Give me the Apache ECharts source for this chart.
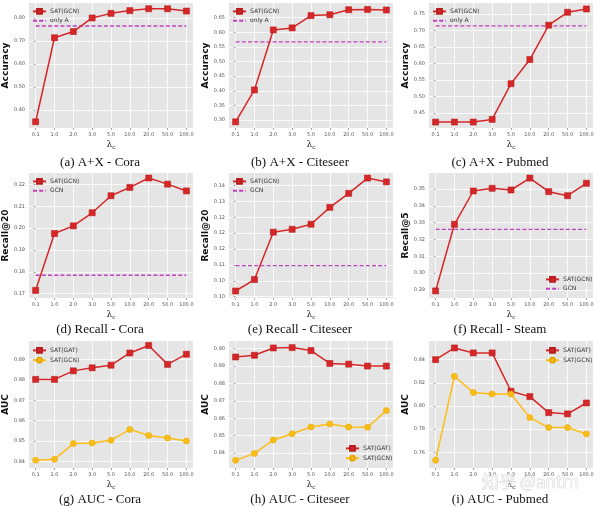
<!DOCTYPE html>
<html>
<head>
<meta charset="utf-8">
<script src="https://cdn.jsdelivr.net/npm/echarts@6/dist/echarts.min.js"></script>
<style>
  html, body { margin: 0; padding: 0; background: #fff; }
  #main { width: 600px; height: 507px; }
</style>
</head>
<body>
<div id="main"></div>
<script>
// lambda_c categories
const lambdas = ['0.1', '1.0', '2.0', '3.0', '5.0', '10.0', '20.0', '50.0', '100.0'];

// row 1: accuracy, A+X
const accCora = [0.349, 0.714, 0.741, 0.800, 0.820, 0.832, 0.840, 0.840, 0.830];
const onlyACora = 0.765;
const accCiteseer = [0.294, 0.403, 0.608, 0.615, 0.657, 0.660, 0.677, 0.678, 0.676];
const onlyACiteseer = 0.567;
const accPubmed = [0.423, 0.423, 0.423, 0.431, 0.539, 0.612, 0.716, 0.755, 0.765];
const onlyAPubmed = 0.714;

// row 2: recall
const recallCora = [0.1715, 0.1975, 0.2010, 0.2070, 0.2148, 0.2186, 0.2229, 0.2201, 0.2170];
const gcnCora = 0.1784;
const recallCiteseer = [0.1018, 0.1054, 0.1203, 0.1212, 0.1228, 0.1281, 0.1325, 0.1373, 0.1361];
const gcnCiteseer = 0.1098;
const recallSteam = [0.2894, 0.3290, 0.3488, 0.3504, 0.3494, 0.3565, 0.3484, 0.3460, 0.3534];
const gcnSteam = 0.326;

// row 3: AUC
const aucCoraGAT = [0.8803, 0.8803, 0.8845, 0.8860, 0.8873, 0.8933, 0.8970, 0.8877, 0.8927];
const aucCoraGCN = [0.8405, 0.8410, 0.8487, 0.8490, 0.8503, 0.8557, 0.8527, 0.8515, 0.8500];
const aucCiteseerGAT = [0.8952, 0.8962, 0.9004, 0.9006, 0.8989, 0.8915, 0.8911, 0.8900, 0.8900];
const aucCiteseerGCN = [0.8358, 0.8398, 0.8475, 0.8511, 0.8550, 0.8567, 0.8550, 0.8548, 0.8644];
const aucPubmedGAT = [0.8400, 0.8501, 0.8458, 0.8458, 0.8127, 0.8081, 0.7943, 0.7932, 0.8026];
const aucPubmedGCN = [0.7531, 0.8257, 0.8116, 0.8104, 0.8104, 0.7900, 0.7814, 0.7814, 0.7759];

// y tick values / labels
const ticksA = [0.40, 0.50, 0.60, 0.70, 0.80];
const ticksB = [0.30, 0.35, 0.40, 0.45, 0.50, 0.55, 0.60, 0.65];
const ticksC = [0.45, 0.50, 0.55, 0.60, 0.65, 0.70, 0.75];
const ticksD = [0.17, 0.18, 0.19, 0.20, 0.21, 0.22];
const ticksE = [0.100, 0.105, 0.110, 0.115, 0.120, 0.125, 0.130, 0.135];
const labelsE = ['0.10', '0.10', '0.11', '0.12', '0.12', '0.12', '0.13', '0.14'];
const ticksF = [0.29, 0.30, 0.31, 0.32, 0.33, 0.34, 0.35];
const ticksG = [0.84, 0.85, 0.86, 0.87, 0.88, 0.89];
const ticksH = [0.84, 0.85, 0.86, 0.87, 0.88, 0.89, 0.90];
const ticksI = [0.76, 0.78, 0.80, 0.82, 0.84];

const RED = '#d62728';
const GOLD = '#fbbd16';
const MAGENTA = '#bf40bf';

const panels = [
  { key: 'a', yName: 'Accuracy', yMin: 0.322, yMax: 0.865, ticks: ticksA, caption: '(a) A+X - Cora',
    lines: [{ name: 'SAT(GCN)', data: accCora, kind: 'red' }], base: { name: 'only A', value: onlyACora }, legend: { left: 32, top: 8 } },
  { key: 'b', yName: 'Accuracy', yMin: 0.273, yMax: 0.700, ticks: ticksB, caption: '(b) A+X - Citeseer',
    lines: [{ name: 'SAT(GCN)', data: accCiteseer, kind: 'red' }], base: { name: 'only A', value: onlyACiteseer }, legend: { left: 232, top: 8 } },
  { key: 'c', yName: 'Accuracy', yMin: 0.405, yMax: 0.783, ticks: ticksC, caption: '(c) A+X - Pubmed',
    lines: [{ name: 'SAT(GCN)', data: accPubmed, kind: 'red' }], base: { name: 'only A', value: onlyAPubmed }, legend: { left: 432, top: 8 } },
  { key: 'd', yName: 'Recall@20', yMin: 0.168, yMax: 0.2252, ticks: ticksD, caption: '(d) Recall - Cora',
    lines: [{ name: 'SAT(GCN)', data: recallCora, kind: 'red' }], base: { name: 'GCN', value: gcnCora }, legend: { left: 32, top: 178 } },
  { key: 'e', yName: 'Recall@20', yMin: 0.0996, yMax: 0.1389, ticks: ticksE, labels: labelsE, caption: '(e) Recall - Citeseer',
    lines: [{ name: 'SAT(GCN)', data: recallCiteseer, kind: 'red' }], base: { name: 'GCN', value: gcnCiteseer }, legend: { left: 232, top: 178 } },
  { key: 'f', yName: 'Recall@5', yMin: 0.2852, yMax: 0.3595, ticks: ticksF, caption: '(f) Recall - Steam',
    lines: [{ name: 'SAT(GCN)', data: recallSteam, kind: 'red' }], base: { name: 'GCN', value: gcnSteam }, legend: { left: 545, top: 276 } },
  { key: 'g', yName: 'AUC', yMin: 0.8367, yMax: 0.8992, ticks: ticksG, caption: '(g) AUC - Cora',
    lines: [{ name: 'SAT(GAT)', data: aucCoraGAT, kind: 'red' }, { name: 'SAT(GCN)', data: aucCoraGCN, kind: 'gold' }], legend: { left: 32, top: 347 } },
  { key: 'h', yName: 'AUC', yMin: 0.8314, yMax: 0.9044, ticks: ticksH, caption: '(h) AUC - Citeseer',
    lines: [{ name: 'SAT(GAT)', data: aucCiteseerGAT, kind: 'red' }, { name: 'SAT(GCN)', data: aucCiteseerGCN, kind: 'gold' }], legend: { left: 345, top: 445 } },
  { key: 'i', yName: 'AUC', yMin: 0.7465, yMax: 0.8561, ticks: ticksI, caption: '(i) AUC - Pubmed',
    lines: [{ name: 'SAT(GAT)', data: aucPubmedGAT, kind: 'red' }, { name: 'SAT(GCN)', data: aucPubmedGCN, kind: 'gold' }], legend: { left: 545, top: 347 } },
];

const rowTop = [3, 173, 341];
const rowHeight = [125, 125, 127];
const captionY = [163, 330, 500];
const xIdx = lambdas.map((_, i) => i);

const grid = [], xAxis = [], yAxis = [], series = [], legend = [], graphic = [];

panels.forEach((p, k) => {
  const row = Math.floor(k / 3), col = k % 3;
  grid.push({
    left: 29 + col * 200, top: rowTop[row], width: 164, height: rowHeight[row],
    show: true, backgroundColor: '#e5e5e5', borderWidth: 0
  });
  xAxis.push({
    type: 'value', gridIndex: k, min: -0.35, max: 8.35,
    axisLine: { show: false },
    axisTick: { show: true, customValues: xIdx, length: 2, lineStyle: { color: '#666', width: 0.6 } },
    axisLabel: { customValues: xIdx, formatter: v => lambdas[Math.round(v)], fontSize: 5, color: '#555', margin: 4, fontFamily: 'DejaVu Sans' },
    splitLine: { show: true, lineStyle: { color: '#fff', width: 0.8 } },
    name: 'λ{s|c}', nameLocation: 'middle', nameGap: 12,
    nameTextStyle: { fontFamily: 'DejaVu Serif', fontSize: 9, color: '#222', rich: { s: { fontSize: 6, verticalAlign: 'bottom', padding: [4, 0, 0, 0] } } }
  });
  yAxis.push({
    type: 'value', gridIndex: k, min: p.yMin, max: p.yMax,
    axisLine: { show: false },
    axisTick: { show: true, customValues: p.ticks, length: 2, lineStyle: { color: '#666', width: 0.6 } },
    axisLabel: {
      customValues: p.ticks, fontSize: 5, color: '#555', margin: 4, fontFamily: 'DejaVu Sans',
      formatter: v => p.labels ? p.labels[p.ticks.findIndex(t => Math.abs(t - v) < 1e-9)] : v.toFixed(2)
    },
    splitLine: { show: true, lineStyle: { color: '#fff', width: 0.8 } },
    name: p.yName, nameLocation: 'middle', nameGap: 12,
    nameTextStyle: { fontFamily: 'DejaVu Sans', fontWeight: 'bold', fontSize: 9, color: '#111' }
  });

  const names = [];
  p.lines.forEach(l => {
    const nm = p.key + '#' + l.name;
    names.push({ name: nm });
    const c = l.kind === 'red' ? RED : GOLD;
    series.push({
      name: nm, type: 'line', xAxisIndex: k, yAxisIndex: k,
      data: l.data.map((v, i) => [i, v]),
      symbol: l.kind === 'red' ? 'rect' : 'circle', symbolSize: 6,
      itemStyle: { color: c, borderColor: l.kind === 'red' ? '#b81c1c' : '#e6a800', borderWidth: 0.6 },
      lineStyle: { color: c, width: 1.5 },
      z: l.kind === 'red' ? 3 : 4
    });
  });
  if (p.base) {
    const nm = p.key + '#' + p.base.name;
    // dashed reference line: legend shows the dash only
    names.push({ name: nm, itemStyle: { opacity: 0 } });
    series.push({
      name: nm, type: 'line', xAxisIndex: k, yAxisIndex: k,
      data: xIdx.map(i => [i, p.base.value]),
      symbol: 'none', lineStyle: { color: MAGENTA, width: 1.3, type: [4, 2.2] },
      itemStyle: { color: MAGENTA }, z: 2
    });
  }
  legend.push({
    data: names, orient: 'vertical', left: p.legend.left, top: p.legend.top,
    itemWidth: 13, itemHeight: 6, itemGap: 3, padding: 0,
    formatter: n => n.split('#')[1],
    textStyle: { fontSize: 6, color: '#333', fontFamily: 'DejaVu Sans', padding: [0, 0, 0, -1] }
  });
  graphic.push({
    type: 'text', x: 100 + col * 200, y: captionY[row],
    style: { text: p.caption, textAlign: 'center', textVerticalAlign: 'middle', font: '13px "Liberation Serif"', fill: '#111' }
  });
});

graphic.push({
  type: 'text', x: 482, y: 482, z: 100,
  style: { text: '知乎 @antrn', textVerticalAlign: 'middle', font: '17px "Noto Sans CJK SC"', fill: 'rgba(252,252,252,0.8)', stroke: '#c8c8c8', lineWidth: 0.7 }
});

const chart = echarts.init(document.getElementById('main'), null, { renderer: 'canvas' });
chart.setOption({
  animation: false,
  backgroundColor: '#fff',
  grid, xAxis, yAxis, series, legend, graphic
});
</script>
</body>
</html>
